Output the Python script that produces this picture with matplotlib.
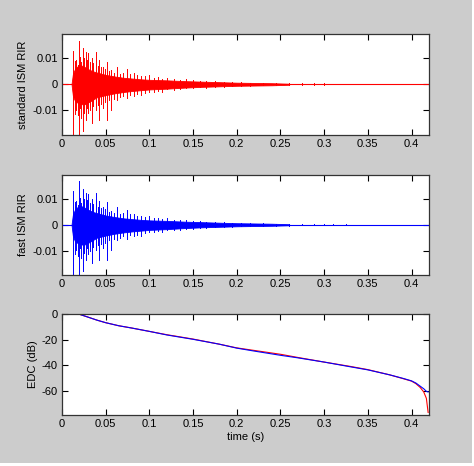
import numpy as np
import matplotlib as mpl
import matplotlib.pyplot as plt
from matplotlib.patches import Rectangle

mpl.rcParams["font.family"] = ["Liberation Sans", "DejaVu Sans"]
mpl.rcParams["font.size"] = 8
mpl.rcParams["axes.unicode_minus"] = False

# dense core of the impulse responses (envelope)
core_t = [0.0110, 0.0125, 0.0150, 0.0200, 0.0250, 0.0300, 0.0350, 0.0400, 0.0500,
          0.0600, 0.0700, 0.0800, 0.0900, 0.1000, 0.1200, 0.1400, 0.1600, 0.1800,
          0.2000, 0.2200, 0.2400, 0.2600]
core_hi = [0.0003, 0.0040, 0.0060, 0.0075, 0.0068, 0.0058, 0.0050, 0.0045, 0.0036,
           0.0030, 0.0025, 0.0022, 0.0019, 0.0017, 0.0015, 0.0012, 0.0010, 0.0008,
           0.0006, 0.0005, 0.0004, 0.0002]
core_lo = [-0.0003, -0.0045, -0.0065, -0.0075, -0.0078, -0.0070, -0.0060, -0.0050,
           -0.0042, -0.0035, -0.0030, -0.0026, -0.0023, -0.0020, -0.0017, -0.0013,
           -0.0010, -0.0008, -0.0006, -0.0005, -0.0004, -0.0002]

# individual reflections sticking out of the core
spike_t = [0.0130, 0.0145, 0.0164, 0.0178, 0.0190, 0.0205, 0.0222, 0.0237, 0.0255,
           0.0270, 0.0285, 0.0300, 0.0320, 0.0340, 0.0360, 0.0390, 0.0410, 0.0427,
           0.0450, 0.0470, 0.0495, 0.0520, 0.0540, 0.0560, 0.0590, 0.0626, 0.0660,
           0.0700, 0.0740, 0.0780, 0.0820, 0.0860, 0.0900, 0.0950, 0.1000, 0.1050,
           0.1100, 0.1150, 0.1200, 0.1280, 0.1350, 0.1420, 0.1500, 0.1580, 0.1650,
           0.1750, 0.1850, 0.1950, 0.2050, 0.2150, 0.2300, 0.2450, 0.2600, 0.2750,
           0.2880, 0.3000]
spike_hi = [0.0129, 0.0090, 0.0093, 0.0075, 0.0168, 0.0105, 0.0085, 0.0138, 0.0100,
            0.0125, 0.0095, 0.0119, 0.0085, 0.0100, 0.0080, 0.0122, 0.0070, 0.0093,
            0.0065, 0.0068, 0.0060, 0.0087, 0.0050, 0.0055, 0.0045, 0.0068, 0.0040,
            0.0045, 0.0058, 0.0040, 0.0042, 0.0035, 0.0032, 0.0030, 0.0035, 0.0025,
            0.0028, 0.0022, 0.0025, 0.0020, 0.0018, 0.0020, 0.0015, 0.0014, 0.0012,
            0.0012, 0.0009, 0.0008, 0.0007, 0.0006, 0.0005, 0.0004, 0.0003, 0.0003,
            0.0003, 0.0003]
spike_lo = [-0.0200, -0.0115, -0.0099, -0.0120, -0.0200, -0.0090, -0.0130, -0.0180,
            -0.0110, -0.0137, -0.0090, -0.0112, -0.0100, -0.0150, -0.0085, -0.0099,
            -0.0080, -0.0137, -0.0075, -0.0092, -0.0070, -0.0137, -0.0060, -0.0099,
            -0.0055, -0.0060, -0.0050, -0.0045, -0.0054, -0.0040, -0.0045, -0.0038,
            -0.0042, -0.0032, -0.0030, -0.0030, -0.0025, -0.0028, -0.0020, -0.0022,
            -0.0020, -0.0015, -0.0016, -0.0012, -0.0013, -0.0010, -0.0009, -0.0007,
            -0.0006, -0.0005, -0.0004, -0.0004, -0.0003, -0.0002, -0.0002, -0.0002]

# the fast ISM response has a few more tiny late reflections
fast_tail_t = [0.3100, 0.3250]
fast_tail_hi = [0.0002, 0.0002]
fast_tail_lo = [-0.0002, -0.0002]

# energy decay curves (dB)
edc_t = [0.019, 0.030, 0.040, 0.050, 0.055, 0.065, 0.080, 0.100, 0.120, 0.150,
         0.180, 0.200, 0.220, 0.240, 0.250, 0.270, 0.300, 0.330, 0.350, 0.375,
         0.390, 0.400, 0.405, 0.410, 0.414, 0.417, 0.419]
edc_std = [0, -2.5, -4.8, -6.8, -7.6, -9.2, -11.0, -13.6, -16.2, -19.6, -23.6, -26.5,
           -28.5, -30.5, -31.5, -34.0, -37.6, -41.0, -43.5, -47.6, -50.5, -52.5,
           -54.5, -57.5, -61.0, -66.0, -77.0]
edc_fast = [0, -2.5, -4.8, -6.8, -7.6, -9.2, -11.0, -13.6, -16.4, -19.8, -23.6, -26.7,
            -29.0, -31.2, -32.3, -34.3, -37.6, -41.3, -43.7, -47.6, -50.3, -52.3,
            -54.0, -56.5, -58.5, -60.5, -61.0]

xticks = [0, 0.05, 0.1, 0.15, 0.2, 0.25, 0.3, 0.35, 0.4]
xticklabels = ["0", "0.05", "0.1", "0.15", "0.2", "0.25", "0.3", "0.35", "0.4"]

W, H = 474, 466
fig = plt.figure(figsize=(W / 100, H / 100), dpi=100, facecolor="white")
fig.patches.append(Rectangle((0, 3 / H), 472 / W, 463 / H, transform=fig.transFigure,
                             facecolor="#cccccc", edgecolor="none", zorder=-10))


def style(ax):
    ax.set_xlim(0, 0.42)
    ax.set_xticks(xticks)
    ax.set_xticklabels(xticklabels)
    ax.tick_params(direction="in", length=4, width=0.8, top=True, right=True,
                   colors="black", pad=3)
    for s in ax.spines.values():
        s.set_linewidth(0.9)
        s.set_color("#333333")


def rir(ax, color, ts, his, los):
    ax.axhline(0, color=color, lw=0.8)
    ax.fill_between(core_t, core_lo, core_hi, facecolor=color, edgecolor=color, lw=0.6)
    for t, hi, lo in zip(ts, his, los):
        ax.plot([t, t], [lo, hi], color=color, lw=0.7)
    ax.set_ylim(-0.0195, 0.0193)
    ax.set_yticks([-0.01, 0, 0.01])
    ax.set_yticklabels(["-0.01", "0", "0.01"])
    style(ax)


ax1 = fig.add_axes([62 / W, 1 - 135 / H, 367 / W, 101 / H])
rir(ax1, "red", spike_t, spike_hi, spike_lo)
ax1.set_ylabel("standard ISM RIR", labelpad=3)

ax2 = fig.add_axes([62 / W, 1 - 275 / H, 367 / W, 100 / H])
rir(ax2, "blue", spike_t + fast_tail_t, spike_hi + fast_tail_hi, spike_lo + fast_tail_lo)
ax2.set_ylabel("fast ISM RIR", labelpad=3)

ax3 = fig.add_axes([62 / W, 1 - 415 / H, 367 / W, 101 / H])
ax3.plot(edc_t, edc_std, color="red", lw=0.8)
ax3.plot(edc_t, edc_fast, color="blue", lw=0.8)
ax3.set_ylim(-79, 0)
ax3.set_yticks([-60, -40, -20, 0])
style(ax3)
ax3.set_ylabel("EDC (dB)", labelpad=3)
ax3.set_xlabel("time (s)", labelpad=2)

fig.savefig("out.png", dpi=100, facecolor=fig.get_facecolor())
